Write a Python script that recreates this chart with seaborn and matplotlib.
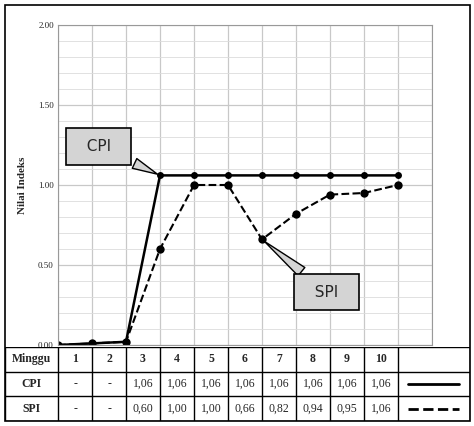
import matplotlib
matplotlib.use("Agg")
import matplotlib.pyplot as plt
import seaborn as sns
import pandas as pd
from matplotlib.patches import Rectangle

weeks = [0, 1, 2, 3, 4, 5, 6, 7, 8, 9, 10]
cpi = [0.0, 0.01, 0.02, 1.06, 1.06, 1.06, 1.06, 1.06, 1.06, 1.06, 1.06]
spi = [0.0, 0.01, 0.02, 0.60, 1.00, 1.00, 0.66, 0.82, 0.94, 0.95, 1.00]
col_labels = ["1", "2", "3", "4", "5", "6", "7", "8", "9", "10"]
cpi_text = ["-", "-", "1,06", "1,06", "1,06", "1,06", "1,06", "1,06", "1,06", "1,06"]
spi_text = ["-", "-", "0,60", "1,00", "1,00", "0,66", "0,82", "0,94", "0,95", "1,06"]
yticks = [0.0, 0.5, 1.0, 1.5, 2.0]

sns.set_style("white")
plt.rcParams['font.family'] = ['Liberation Serif', 'DejaVu Serif']
W, H = 474, 426
fig = plt.figure(figsize=(W/100, H/100), dpi=100)

def fx(px): return px / W
def fy(py): return 1 - py / H

ax = fig.add_axes([fx(58), fy(345), (432-58)/W, (345-25)/H])
df = pd.DataFrame({"w": weeks, "cpi": cpi, "spi": spi})
sns.lineplot(data=df, x="w", y="cpi", ax=ax, color="black", lw=1.8, marker="o", markersize=5, markeredgewidth=0)
sns.lineplot(data=df, x="w", y="spi", ax=ax, color="black", lw=1.5, ls="--", marker="o", markersize=6, markeredgewidth=0)
ax.set_xlim(0, 11)
ax.set_ylim(0, 2.0)
ax.set_xticks(range(0, 12))
ax.set_xticklabels([])
ax.tick_params(axis="x", length=0)
ax.set_yticks([i/10 for i in range(21)], minor=True)
ax.set_yticks(yticks)
ax.set_yticklabels([f"{v:.2f}" for v in yticks], fontsize=6.5)
ax.tick_params(axis="y", length=0, pad=3)
ax.grid(True, which="major", axis="both", color="#c8c8c8", lw=0.9)
ax.grid(True, which="minor", axis="y", color="#dcdcdc", lw=0.6)
ax.set_xlabel("")
ax.set_ylabel("Nilai Indeks", fontsize=8, fontweight="bold", labelpad=8)
for s in ax.spines.values():
    s.set_color("#999999"); s.set_linewidth(0.8)

box = dict(boxstyle="square,pad=0.7", fc="#d4d4d4", ec="black", lw=1.2)
ax.annotate("  CPI  ", xy=(3, 1.06), xytext=(1.2, 1.24), fontsize=11, family="DejaVu Sans",
            ha="center", va="center", bbox=box,
            arrowprops=dict(arrowstyle="wedge,tail_width=0.7", fc="#d4d4d4", ec="black", lw=1))
ax.annotate("  SPI  ", xy=(6, 0.66), xytext=(7.9, 0.33), fontsize=11, family="DejaVu Sans",
            ha="center", va="center", bbox=box,
            arrowprops=dict(arrowstyle="wedge,tail_width=0.7", fc="#d4d4d4", ec="black", lw=1))

# table
tx0, tx1 = 5, 470
ty0, ty1 = 347, 421
tab = fig.add_axes([fx(tx0), fy(ty1), (tx1-tx0)/W, (ty1-ty0)/H])
xl, xr = -(58-tx0)/34, (tx1-58)/34
tab.set_xlim(xl, xr); tab.set_ylim(3, 0)
tab.axis("off")
for yb in [0, 1, 2, 3]:
    tab.plot([xl, xr], [yb, yb], color="black", lw=1)
for xb in [xl, xr] + list(range(0, 11)):
    tab.plot([xb, xb], [0, 3], color="black", lw=1)
rows = [("Minggu", col_labels), ("CPI", cpi_text), ("SPI", spi_text)]
for r, (name, vals) in enumerate(rows):
    tab.text((xl+0)/2, r+0.5, name, ha="center", va="center", fontsize=8.5, fontweight="bold")
    for i, v in enumerate(vals):
        tab.text(i+0.5, r+0.5, v, ha="center", va="center", fontsize=8.5,
                 fontweight="bold" if r == 0 else "normal")
tab.plot([10.3, 11.8], [1.5, 1.5], color="black", lw=2)
tab.plot([10.3, 11.8], [2.5, 2.5], color="black", lw=2, ls="--")

fig.patches.append(Rectangle((fx(5), fy(421)), (470-5)/W, (421-5)/H, transform=fig.transFigure,
                             fill=False, ec="black", lw=1.2))
fig.savefig("out.png", dpi=100)
